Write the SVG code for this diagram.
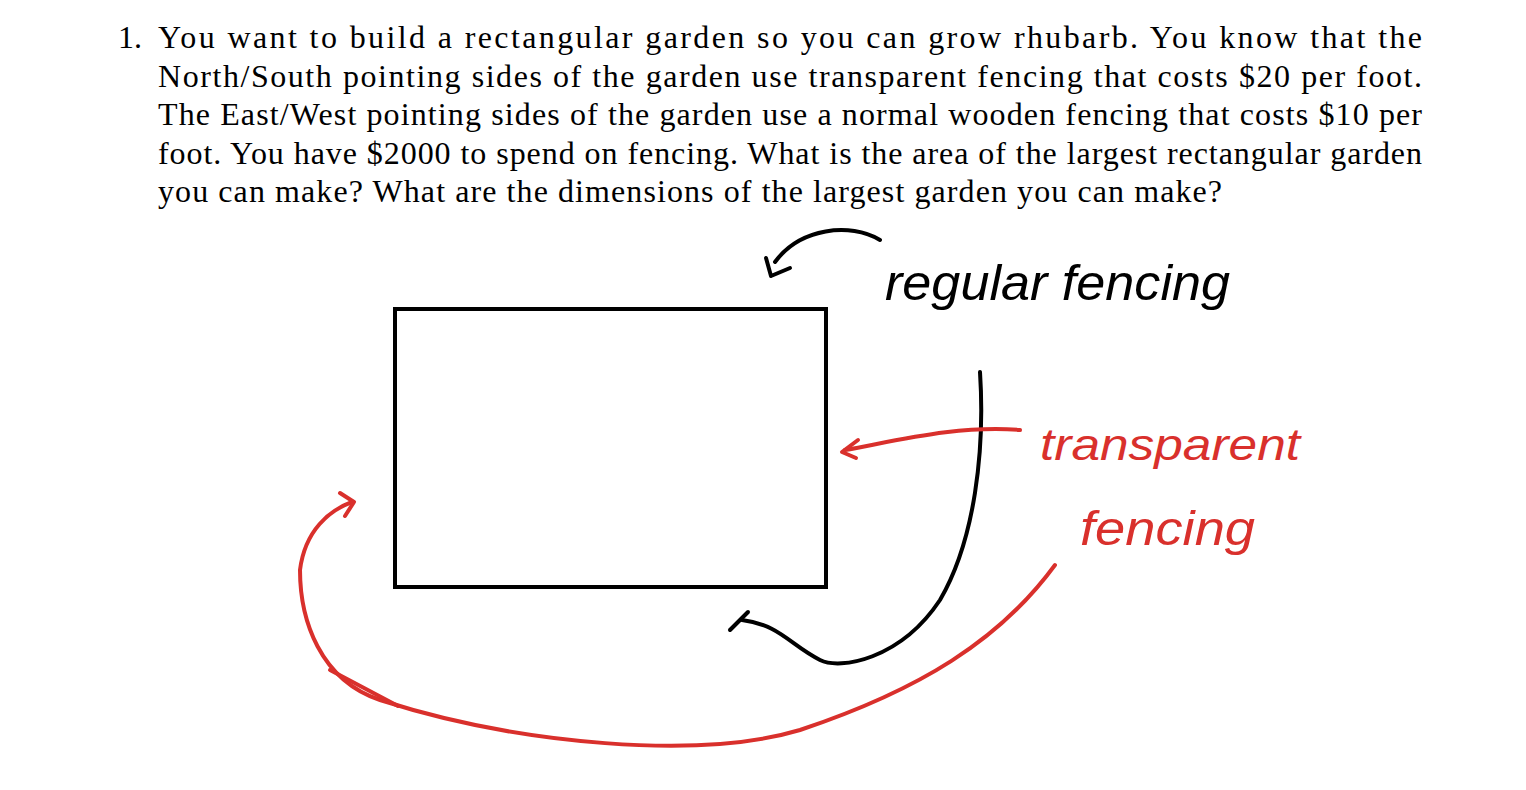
<svg xmlns="http://www.w3.org/2000/svg" width="1526" height="790" viewBox="0 0 1526 790">
<style>
.q{font-family:"Liberation Serif",serif;font-size:32px;fill:#000}
.h{font-family:"Liberation Sans",sans-serif;font-style:italic;}
.bk{fill:none;stroke:#000;stroke-width:4;stroke-linecap:round;stroke-linejoin:round}
.rd{fill:none;stroke:#d9302c;stroke-width:4;stroke-linecap:round;stroke-linejoin:round}
</style>
<rect width="1526" height="790" fill="#fff"/>
<g id="question">
<text class="q" x="118" y="48">1.</text>
<text class="q" x="158" y="48" textLength="1264" lengthAdjust="spacing">You want to build a rectangular garden so you can grow rhubarb.  You know that the</text>
<text class="q" x="158" y="87" textLength="1264" lengthAdjust="spacing">North/South pointing sides of the garden use transparent fencing that costs $20 per foot.</text>
<text class="q" x="158" y="125" textLength="1264" lengthAdjust="spacing">The East/West pointing sides of the garden use a normal wooden fencing that costs $10 per</text>
<text class="q" x="158" y="164" textLength="1264" lengthAdjust="spacing">foot. You have $2000 to spend on fencing. What is the area of the largest rectangular garden</text>
<text class="q" x="158" y="202" textLength="1064" lengthAdjust="spacing">you can make? What are the dimensions of the largest garden you can make?</text>
</g>
<g id="garden"><rect x="395" y="309" width="431" height="278" fill="none" stroke="#000" stroke-width="4"/></g>
<g id="labels">
<text class="h" x="885" y="300" font-size="50" fill="#000" textLength="345" lengthAdjust="spacingAndGlyphs">regular fencing</text>
<text class="h" x="1040" y="460" font-size="44" fill="#d9302c" textLength="260" lengthAdjust="spacingAndGlyphs">transparent</text>
<text class="h" x="1080" y="545" font-size="48" fill="#d9302c" textLength="175" lengthAdjust="spacingAndGlyphs">fencing</text>
</g>
<g id="connectors">
<path class="bk" d="M880 240 C850 222 800 228 775 262"/>
<path class="bk" d="M766 258 L771 276 L790 268"/>
<path class="bk" d="M980 372 C985 450 975 540 940 600 C900 660 840 670 820 660 C790 645 780 625 742 620"/>
<path class="bk" d="M748 612 L730 630"/>
<path class="rd" d="M1020 430 C960 425 900 440 845 450"/>
<path class="rd" d="M858 440 L842 452 L856 458"/>
<path class="rd" d="M1055 565 C1000 640 920 690 800 730 C700 760 520 745 380 700 C320 680 300 620 300 570 C305 530 330 510 352 502"/>
<path class="rd" d="M340 493 L354 502 L345 516"/>
<path class="rd" d="M330 670 L398 706"/>
</g>
</svg>
